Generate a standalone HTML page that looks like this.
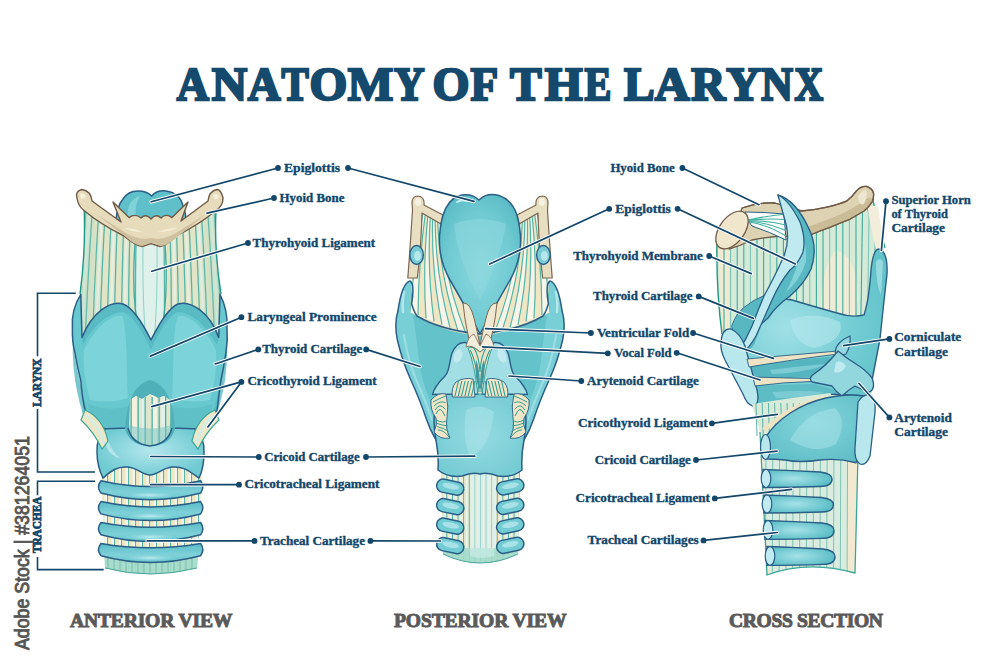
<!DOCTYPE html>
<html><head><meta charset="utf-8"><style>
html,body{margin:0;padding:0;background:#fff;width:1000px;height:667px;overflow:hidden}
svg{display:block}
.lb text{font-family:"Liberation Serif",serif;font-weight:bold;font-size:13px;fill:#12466a;stroke:#12466a;stroke-width:0.35px}
</style></head><body>
<svg width="1000" height="667" viewBox="0 0 1000 667">
<rect width="1000" height="667" fill="#fff"/>
<g font-family="Liberation Serif" font-weight="bold" font-size="46.9" fill="#154a6c" stroke="#154a6c" stroke-width="2.3" stroke-linejoin="miter"><text transform="translate(176.70,99.65) scale(0.951,1)">A</text><text transform="translate(211.82,99.65) scale(1.043,1)">N</text><text transform="translate(247.70,99.65) scale(0.969,1)">A</text><text transform="translate(281.50,99.65) scale(0.870,1)">T</text><text transform="translate(309.47,99.65) scale(1.036,1)">O</text><text transform="translate(347.83,99.65) scale(1.027,1)">M</text><text transform="translate(393.89,99.65) scale(0.901,1)">Y</text><text transform="translate(432.52,99.65) scale(1.014,1)">O</text><text transform="translate(470.38,99.65) scale(0.966,1)">F</text><text transform="translate(509.99,99.65) scale(1.011,1)">T</text><text transform="translate(544.72,99.65) scale(1.036,1)">H</text><text transform="translate(584.46,99.65) scale(0.859,1)">E</text><text transform="translate(623.97,99.65) scale(0.977,1)">L</text><text transform="translate(654.67,99.65) scale(1.030,1)">A</text><text transform="translate(691.35,99.65) scale(1.008,1)">R</text><text transform="translate(726.29,99.65) scale(1.019,1)">Y</text><text transform="translate(761.32,99.65) scale(0.935,1)">N</text><text transform="translate(794.40,99.65) scale(0.844,1)">X</text></g>
<g id="anterior">
<defs>
<clipPath id="cMemA"><path d="M84,205 Q86,250 80,294 L83,338 L219,338 L221,294 Q214,250 216,210 L176,238 L151,243 L126,237 Z"/></clipPath>
<clipPath id="cTrA"><path d="M101,462 L202,462 L197,568 Q150,580 105,568 Z"/></clipPath>
<clipPath id="cLigA"><path d="M130,400 L136,396 L142,399 L150,394 L158,398 L164,396 L170,400 L171,428 Q168,444 150,446 Q132,444 129,428 Z"/></clipPath>
<radialGradient id="gCricA" cx="0.5" cy="0.45" r="0.55"><stop offset="0" stop-color="#b4e7ed"/><stop offset="1" stop-color="#6fcad2"/></radialGradient>
<linearGradient id="gRingA" x1="0" x2="0" y1="0" y2="1"><stop offset="0" stop-color="#5bbcc6"/><stop offset="0.6" stop-color="#7fd1d9"/><stop offset="1" stop-color="#66c6ce"/></linearGradient>
</defs>
<path d="M102,466 L201,466 L197,568 Q150,580 105,568 Z" fill="#a6d9c9"/>
<g clip-path="url(#cTrA)">
<rect x="100" y="460" width="104" height="100" fill="#e9e6c8"/>
<rect x="101.5" y="460" width="3" height="100" fill="#f2e6bf"/>
<rect x="104.5" y="460" width="2.6" height="100" fill="#eef6ee"/>
<rect x="107.1" y="460" width="1" height="112" fill="#4bb0a3"/>
<rect x="108.5" y="460" width="3" height="100" fill="#f2e6bf"/>
<rect x="111.5" y="460" width="2.6" height="100" fill="#eef6ee"/>
<rect x="114.1" y="460" width="1" height="112" fill="#4bb0a3"/>
<rect x="115.5" y="460" width="3" height="100" fill="#f2e6bf"/>
<rect x="118.5" y="460" width="2.6" height="100" fill="#eef6ee"/>
<rect x="121.1" y="460" width="1" height="112" fill="#4bb0a3"/>
<rect x="122.5" y="460" width="3" height="100" fill="#f2e6bf"/>
<rect x="125.5" y="460" width="2.6" height="100" fill="#eef6ee"/>
<rect x="128.1" y="460" width="1" height="112" fill="#4bb0a3"/>
<rect x="129.5" y="460" width="3" height="100" fill="#f2e6bf"/>
<rect x="132.5" y="460" width="2.6" height="100" fill="#eef6ee"/>
<rect x="135.1" y="460" width="1" height="112" fill="#4bb0a3"/>
<rect x="136.5" y="460" width="3" height="100" fill="#f2e6bf"/>
<rect x="139.5" y="460" width="2.6" height="100" fill="#eef6ee"/>
<rect x="142.1" y="460" width="1" height="112" fill="#4bb0a3"/>
<rect x="143.5" y="460" width="3" height="100" fill="#f2e6bf"/>
<rect x="146.5" y="460" width="2.6" height="100" fill="#eef6ee"/>
<rect x="149.1" y="460" width="1" height="112" fill="#4bb0a3"/>
<rect x="150.5" y="460" width="3" height="100" fill="#f2e6bf"/>
<rect x="153.5" y="460" width="2.6" height="100" fill="#eef6ee"/>
<rect x="156.1" y="460" width="1" height="112" fill="#4bb0a3"/>
<rect x="157.5" y="460" width="3" height="100" fill="#f2e6bf"/>
<rect x="160.5" y="460" width="2.6" height="100" fill="#eef6ee"/>
<rect x="163.1" y="460" width="1" height="112" fill="#4bb0a3"/>
<rect x="164.5" y="460" width="3" height="100" fill="#f2e6bf"/>
<rect x="167.5" y="460" width="2.6" height="100" fill="#eef6ee"/>
<rect x="170.1" y="460" width="1" height="112" fill="#4bb0a3"/>
<rect x="171.5" y="460" width="3" height="100" fill="#f2e6bf"/>
<rect x="174.5" y="460" width="2.6" height="100" fill="#eef6ee"/>
<rect x="177.1" y="460" width="1" height="112" fill="#4bb0a3"/>
<rect x="178.5" y="460" width="3" height="100" fill="#f2e6bf"/>
<rect x="181.5" y="460" width="2.6" height="100" fill="#eef6ee"/>
<rect x="184.1" y="460" width="1" height="112" fill="#4bb0a3"/>
<rect x="185.5" y="460" width="3" height="100" fill="#f2e6bf"/>
<rect x="188.5" y="460" width="2.6" height="100" fill="#eef6ee"/>
<rect x="191.1" y="460" width="1" height="112" fill="#4bb0a3"/>
<rect x="192.5" y="460" width="3" height="100" fill="#f2e6bf"/>
<rect x="195.5" y="460" width="2.6" height="100" fill="#eef6ee"/>
<rect x="198.1" y="460" width="1" height="112" fill="#4bb0a3"/>
<rect x="199.5" y="460" width="3" height="100" fill="#f2e6bf"/>
<rect x="202.5" y="460" width="2.6" height="100" fill="#eef6ee"/>
<rect x="205.1" y="460" width="1" height="112" fill="#4bb0a3"/>
<path d="M100,556 L204,556 L204,580 L100,580 Z" fill="#a8dccb" opacity="0.9"/>
<rect x="107.6" y="556" width="0.8" height="20" fill="#6cbba9"/>
<rect x="113.6" y="556" width="0.8" height="20" fill="#6cbba9"/>
<rect x="119.6" y="556" width="0.8" height="20" fill="#6cbba9"/>
<rect x="125.6" y="556" width="0.8" height="20" fill="#6cbba9"/>
<rect x="131.6" y="556" width="0.8" height="20" fill="#6cbba9"/>
<rect x="137.6" y="556" width="0.8" height="20" fill="#6cbba9"/>
<rect x="143.6" y="556" width="0.8" height="20" fill="#6cbba9"/>
<rect x="149.6" y="556" width="0.8" height="20" fill="#6cbba9"/>
<rect x="155.6" y="556" width="0.8" height="20" fill="#6cbba9"/>
<rect x="161.6" y="556" width="0.8" height="20" fill="#6cbba9"/>
<rect x="167.6" y="556" width="0.8" height="20" fill="#6cbba9"/>
<rect x="173.6" y="556" width="0.8" height="20" fill="#6cbba9"/>
<rect x="179.6" y="556" width="0.8" height="20" fill="#6cbba9"/>
<rect x="185.6" y="556" width="0.8" height="20" fill="#6cbba9"/>
<rect x="191.6" y="556" width="0.8" height="20" fill="#6cbba9"/>
<rect x="197.6" y="556" width="0.8" height="20" fill="#6cbba9"/>
<rect x="203.6" y="556" width="0.8" height="20" fill="#6cbba9"/>
</g>
<path d="M105,568 Q150,580 197,568" fill="none" stroke="#4aa59a" stroke-width="1"/>
<defs><radialGradient id="gRingHA" cx="0.5" cy="0.5" r="0.5"><stop offset="0" stop-color="#c4f0f3" stop-opacity="0.9"/><stop offset="1" stop-color="#9fe0e6" stop-opacity="0"/></radialGradient></defs>
<path d="M101,480.7 Q150,492.3 200.6,480.7 Q205,486.9 200.6,493.0 Q150,506.4 101,493.0 Q96,486.9 101,480.7 Z" fill="url(#gRingA)" stroke="#2b5f86" stroke-width="1.5"/>
<ellipse cx="150" cy="495.2" rx="26" ry="3.2" fill="url(#gRingHA)"/>
<path d="M101,501.6 Q150,512.2 200.6,501.6 Q205,507.8 200.6,513.9 Q150,527.3 101,513.9 Q96,507.8 101,501.6 Z" fill="url(#gRingA)" stroke="#2b5f86" stroke-width="1.5"/>
<ellipse cx="150" cy="516.1" rx="26" ry="3.2" fill="url(#gRingHA)"/>
<path d="M101,522.5 Q150,532.1 200.6,522.5 Q205,528.6 200.6,534.8 Q150,548.2 101,534.8 Q96,528.6 101,522.5 Z" fill="url(#gRingA)" stroke="#2b5f86" stroke-width="1.5"/>
<ellipse cx="150" cy="537.0" rx="26" ry="3.2" fill="url(#gRingHA)"/>
<path d="M101,543.4 Q150,552.0 200.6,543.4 Q205,549.5 200.6,555.7 Q150,569.1 101,555.7 Q96,549.5 101,543.4 Z" fill="url(#gRingA)" stroke="#2b5f86" stroke-width="1.5"/>
<ellipse cx="150" cy="557.9" rx="26" ry="3.2" fill="url(#gRingHA)"/>
<path d="M97,452 Q96,438 106,428 L194,428 Q205,438 204,452 Q204,468 199,478 C190,472 184,466 172,467 C162,468 158,475 150,475 C142,475 138,468 128,467 C116,466 110,472 103,478 Q97,466 97,452 Z" fill="url(#gCricA)" stroke="#2b5f86" stroke-width="1.5"/>
<path d="M108,440 Q112,452 120,458 Q110,456 106,446 Z" fill="#d2f1f4" opacity="0.6"/>
<g clip-path="url(#cMemA)">
<rect x="70" y="200" width="160" height="140" fill="#f1e7c6"/>
<defs><linearGradient id="gMemTint" x1="0" x2="1" y1="0" y2="0"><stop offset="0" stop-color="#8fd0c0" stop-opacity="0.55"/><stop offset="0.2" stop-color="#8fd0c0" stop-opacity="0"/><stop offset="0.8" stop-color="#8fd0c0" stop-opacity="0"/><stop offset="1" stop-color="#8fd0c0" stop-opacity="0.55"/></linearGradient></defs>
<path d="M135,244 Q131,300 140,338 L160,338 Q169,300 165,244 Z" fill="#eef8f4"/>
<path d="M86.0,209.0 Q81.0,274.5 78.0,340" fill="none" stroke="#3fab9c" stroke-width="1.3"/>
<path d="M92.2,212.5 Q87.8,276.2 85.2,340" fill="none" stroke="#3fab9c" stroke-width="1.3"/>
<path d="M98.5,216.0 Q94.5,278.0 92.5,340" fill="none" stroke="#3fab9c" stroke-width="1.3"/>
<path d="M104.8,219.5 Q101.2,279.8 99.8,340" fill="none" stroke="#3fab9c" stroke-width="1.3"/>
<path d="M111.0,223.0 Q108.0,281.5 107.0,340" fill="none" stroke="#3fab9c" stroke-width="1.3"/>
<path d="M117.2,226.5 Q114.8,283.2 114.2,340" fill="none" stroke="#3fab9c" stroke-width="1.3"/>
<path d="M123.5,230.0 Q121.5,285.0 121.5,340" fill="none" stroke="#3fab9c" stroke-width="1.3"/>
<path d="M129.8,239.2 Q128.2,289.6 128.8,340" fill="none" stroke="#3fab9c" stroke-width="1.3"/>
<path d="M136.0,244.2 Q135.0,292.1 136.0,340" fill="none" stroke="#3fab9c" stroke-width="1.3"/>
<path d="M89.1,210.8 Q84.4,275.4 81.6,340" fill="none" stroke="#f7f5ea" stroke-width="2.6" opacity="0.9"/>
<path d="M101.6,217.8 Q97.9,278.9 96.1,340" fill="none" stroke="#f7f5ea" stroke-width="2.6" opacity="0.9"/>
<path d="M114.1,224.8 Q111.4,282.4 110.6,340" fill="none" stroke="#f7f5ea" stroke-width="2.6" opacity="0.9"/>
<path d="M126.6,231.8 Q124.9,285.9 125.1,340" fill="none" stroke="#f7f5ea" stroke-width="2.6" opacity="0.9"/>
<path d="M214.0,209.0 Q219.0,274.5 222.0,340" fill="none" stroke="#3fab9c" stroke-width="1.3"/>
<path d="M207.8,212.5 Q212.2,276.2 214.8,340" fill="none" stroke="#3fab9c" stroke-width="1.3"/>
<path d="M201.5,216.0 Q205.5,278.0 207.5,340" fill="none" stroke="#3fab9c" stroke-width="1.3"/>
<path d="M195.2,219.5 Q198.8,279.8 200.2,340" fill="none" stroke="#3fab9c" stroke-width="1.3"/>
<path d="M189.0,223.0 Q192.0,281.5 193.0,340" fill="none" stroke="#3fab9c" stroke-width="1.3"/>
<path d="M182.8,226.5 Q185.2,283.2 185.8,340" fill="none" stroke="#3fab9c" stroke-width="1.3"/>
<path d="M176.5,230.0 Q178.5,285.0 178.5,340" fill="none" stroke="#3fab9c" stroke-width="1.3"/>
<path d="M170.2,239.2 Q171.8,289.6 171.2,340" fill="none" stroke="#3fab9c" stroke-width="1.3"/>
<path d="M164.0,244.2 Q165.0,292.1 164.0,340" fill="none" stroke="#3fab9c" stroke-width="1.3"/>
<path d="M210.9,210.8 Q215.6,275.4 218.4,340" fill="none" stroke="#f7f5ea" stroke-width="2.6" opacity="0.9"/>
<path d="M198.4,217.8 Q202.1,278.9 203.9,340" fill="none" stroke="#f7f5ea" stroke-width="2.6" opacity="0.9"/>
<path d="M185.9,224.8 Q188.6,282.4 189.4,340" fill="none" stroke="#f7f5ea" stroke-width="2.6" opacity="0.9"/>
<path d="M173.4,231.8 Q175.1,285.9 174.9,340" fill="none" stroke="#f7f5ea" stroke-width="2.6" opacity="0.9"/>
<path d="M143,244 Q142.3,300 145.8,340" fill="none" stroke="#8fd3c8" stroke-width="1.1"/>
<path d="M157,244 Q157.7,300 154.2,340" fill="none" stroke="#8fd3c8" stroke-width="1.1"/>
<rect x="70" y="200" width="160" height="140" fill="url(#gMemTint)"/>
<rect x="70" y="200" width="160" height="140" fill="#a9dccf" opacity="0.22"/>
<path d="M135,244 Q131,300 140,338 M165,244 Q169,300 160,338" fill="none" stroke="#3ea99c" stroke-width="1.3"/>
</g>
<path d="M84,205 Q86,250 80,294" fill="none" stroke="#1f9986" stroke-width="1.4"/>
<path d="M216,210 Q214,250 221,294" fill="none" stroke="#1f9986" stroke-width="1.4"/>
<path d="M116,220 Q117,206 123,199 Q128,191 138,191 Q147,191 151.6,196 Q157,190 166,191 Q180,193 183,206 Q186,212 186,222 Z" fill="#5fc0c9" stroke="#2b5f86" stroke-width="1.5"/>
<path d="M128,218 Q126,200 140,196 Q134,206 136,218 Z" fill="#88d4dc" opacity="0.8"/>
<path d="M82,189.5 Q75,191 77,198 Q78,206 84,210.5 Q100,224 124,236 Q136,246 142,246.5 L151,243.5 L160,246.5 Q166,246 176,236 Q200,224 216,210.5 Q223,206 223,198 Q221,189.5 217,189.5 Q209,191 208,201 L181,221 L188,202 L172,217.6 Q166,213 161,218 Q156,213 151,219 Q146,213 141,218 Q135,213 129,217.6 L113,202 L121,222 L92,201 Q91,191 82,189.5 Z" fill="#e6dcbb" stroke="#6f5a47" stroke-width="1.4" stroke-linejoin="round"/>
<path d="M96,214 L126,233 Q140,241 151,238 Q162,241 176,233 L206,214 L176,238 Q168,245 161,246 L151,243 L142,246 Q134,245 126,237 Z" fill="#cfc19f"/>
<path d="M80,194 Q82,192 86,196 Q84,200 81,199 Z" fill="#f5f0dc"/>
<path d="M213,195 Q216,192 219,196 Q218,200 214,199 Z" fill="#f5f0dc"/>
<path d="M124,228 Q134,228 142,232 Q132,232 124,228 Z M158,232 Q168,228 178,228 Q168,232 158,232 Z" fill="#f3eed8"/>
<path d="M80.8,294.4 Q71,310 72.4,328 Q72,342 74.8,352 Q77,366 80.8,380.7 Q82,396 84.4,407 Q87,418 91.6,424 Q98,428 106,428.7 L128,428 Q150,424 172,428 L194,428.7 Q206,428 211.5,424 Q216,418 217.5,407 Q219,394 221,380 Q224,366 226,352 Q228,340 227,328 Q228,310 220,294.4 L218.7,337.6 C210,312 190,300 178,304 C168,308 158,326 151,340 C144,326 134,308 123,304 C111,300 92,312 82,337.6 Z" fill="#67c8cf"/>
<path d="M84,350 C96,326 112,314 122,316 C128,330 126,372 128,398 Q110,404 90,400 Q82,372 84,350 Z" fill="#80d4da" opacity="0.9"/>
<path d="M216,350 C204,326 188,314 178,316 C172,330 174,372 172,398 Q190,404 210,400 Q218,372 216,350 Z" fill="#80d4da" opacity="0.9"/>
<path d="M88,404 Q110,412 128,406 L172,406 Q190,412 212,404 L212,424 Q200,428 172,428 Q150,420 128,428 Q100,428 91.6,424 Z" fill="#60c0c8"/>
<path d="M82,337.6 C92,312 111,300 123,304 C134,308 144,326 151,340 C158,326 168,308 178,304 C190,300 210,312 218.7,337.6 L217,345 C206,324 190,312 178,312 C168,316 158,334 151,350 C144,334 134,316 123,312 C110,312 94,324 83,345 Z" fill="#59bac3"/>
<path d="M74,330 Q72,352 80,381 Q84,406 92,424 L86,424 Q78,400 75,380 Q71,350 74,330 Z" fill="#59bac3" opacity="0.8"/>
<path d="M226,330 Q228,352 220,381 Q216,406 208,424 L214,424 Q222,400 225,380 Q229,350 226,330 Z" fill="#59bac3" opacity="0.8"/>
<path d="M80.8,294.4 Q71,310 72.4,328 Q72,342 74.8,352 Q77,366 80.8,380.7 Q82,396 84.4,407 Q87,418 91.6,424 Q98,428 106,428.7 L128,428 Q150,424 172,428 L194,428.7 Q206,428 211.5,424 Q216,418 217.5,407 Q219,394 221,380 Q224,366 226,352 Q228,340 227,328 Q228,310 220,294.4 L218.7,337.6 C210,312 190,300 178,304 C168,308 158,326 151,340 C144,326 134,308 123,304 C111,300 92,312 82,337.6 Z" fill="none" stroke="#2b5f86" stroke-width="1.5" stroke-linejoin="round"/>
<path d="M125,429 Q127,386 150,380 Q173,386 175,429 Q170,446 150,446 Q130,446 125,429 Z" fill="#4fb0ba"/>
<g clip-path="url(#cLigA)">
<rect x="125" y="390" width="50" height="60" fill="#dfe6cc"/>
<rect x="132" y="390" width="5" height="60" fill="#f5f1e0"/>
<rect x="142" y="390" width="4" height="60" fill="#dff0ea"/>
<rect x="152" y="390" width="5" height="60" fill="#f5f1e0"/>
<rect x="161" y="390" width="4" height="60" fill="#dff0ea"/>
<rect x="130.5" y="397" width="1.3" height="50" fill="#4bb0a3"/>
<rect x="137.5" y="397" width="1.3" height="50" fill="#4bb0a3"/>
<rect x="144.5" y="397" width="1.3" height="50" fill="#4bb0a3"/>
<rect x="151.5" y="397" width="1.3" height="50" fill="#4bb0a3"/>
<rect x="158.5" y="397" width="1.3" height="50" fill="#4bb0a3"/>
<rect x="165" y="397" width="1.3" height="50" fill="#4bb0a3"/>
<rect x="170" y="397" width="1.3" height="50" fill="#4bb0a3"/>
<path d="M128,425 Q150,432 172,425 L172,450 L128,450 Z" fill="#6fc4c4" opacity="0.5"/>
</g>
<path d="M128,428 Q132,444 150,446 Q168,444 172,428" fill="none" stroke="#2b5f86" stroke-width="1.4"/>
<path d="M85.0,410 Q103.0,418 108.0,441 L102.0,449 Q94.0,432 81.0,420 Z" fill="#efe6c6" stroke="#3aa69a" stroke-width="1.2"/>
<path d="M86.0,415 Q98.0,424 104.0,444" fill="none" stroke="#cfeee8" stroke-width="2.5"/>
<path d="M215.0,410 Q197.0,418 192.0,441 L198.0,449 Q206.0,432 219.0,420 Z" fill="#efe6c6" stroke="#3aa69a" stroke-width="1.2"/>
<path d="M214.0,415 Q202.0,424 196.0,444" fill="none" stroke="#cfeee8" stroke-width="2.5"/>
</g><g id="posterior">
<defs>
<radialGradient id="gEpiP" cx="0.5" cy="0.55" r="0.6"><stop offset="0" stop-color="#88d6dd"/><stop offset="0.7" stop-color="#6fcad2"/><stop offset="1" stop-color="#5bbcc6"/></radialGradient>
<radialGradient id="gCriP" cx="0.5" cy="0.5" r="0.6"><stop offset="0" stop-color="#96dbe2"/><stop offset="1" stop-color="#74cbd3"/></radialGradient>
<clipPath id="cTrP"><path d="M441,466 L520,466 L518,554 Q480,572 443,554 Z"/></clipPath>
<clipPath id="cMemP"><path d="M416,206 L442,219 L480,334 L518,219 L544,206 L550,312 Q520,332 480,336 Q440,332 410,312 Z"/></clipPath>
</defs>
<path d="M441,466 L520,466 L518,554 Q480,572 443,554 Z" fill="#a8dccb"/>
<g clip-path="url(#cTrP)">
<rect x="440" y="460" width="84" height="90" fill="#efe6c8"/>
<rect x="443.2" y="460" width="2.2" height="90" fill="#e2f2ec"/>
<rect x="446.4" y="460" width="0.9" height="110" fill="#4db2a6"/>
<rect x="448.8" y="460" width="2.2" height="90" fill="#e2f2ec"/>
<rect x="452.0" y="460" width="0.9" height="110" fill="#4db2a6"/>
<rect x="454.4" y="460" width="2.2" height="90" fill="#e2f2ec"/>
<rect x="457.6" y="460" width="0.9" height="110" fill="#4db2a6"/>
<rect x="460.0" y="460" width="2.2" height="90" fill="#e2f2ec"/>
<rect x="463.2" y="460" width="0.9" height="110" fill="#4db2a6"/>
<rect x="465.6" y="460" width="2.2" height="90" fill="#e2f2ec"/>
<rect x="468.8" y="460" width="0.9" height="110" fill="#4db2a6"/>
<rect x="471.2" y="460" width="2.2" height="90" fill="#e2f2ec"/>
<rect x="474.4" y="460" width="0.9" height="110" fill="#4db2a6"/>
<rect x="476.8" y="460" width="2.2" height="90" fill="#e2f2ec"/>
<rect x="480.0" y="460" width="0.9" height="110" fill="#4db2a6"/>
<rect x="482.4" y="460" width="2.2" height="90" fill="#e2f2ec"/>
<rect x="485.6" y="460" width="0.9" height="110" fill="#4db2a6"/>
<rect x="488.0" y="460" width="2.2" height="90" fill="#e2f2ec"/>
<rect x="491.2" y="460" width="0.9" height="110" fill="#4db2a6"/>
<rect x="493.6" y="460" width="2.2" height="90" fill="#e2f2ec"/>
<rect x="496.8" y="460" width="0.9" height="110" fill="#4db2a6"/>
<rect x="499.2" y="460" width="2.2" height="90" fill="#e2f2ec"/>
<rect x="502.4" y="460" width="0.9" height="110" fill="#4db2a6"/>
<rect x="504.8" y="460" width="2.2" height="90" fill="#e2f2ec"/>
<rect x="508.0" y="460" width="0.9" height="110" fill="#4db2a6"/>
<rect x="510.4" y="460" width="2.2" height="90" fill="#e2f2ec"/>
<rect x="513.6" y="460" width="0.9" height="110" fill="#4db2a6"/>
<rect x="516.0" y="460" width="2.2" height="90" fill="#e2f2ec"/>
<rect x="519.2" y="460" width="0.9" height="110" fill="#4db2a6"/>
<rect x="521.6" y="460" width="2.2" height="90" fill="#e2f2ec"/>
<rect x="524.8" y="460" width="0.9" height="110" fill="#4db2a6"/>
<path d="M440,548 L524,548 L524,570 L440,570 Z" fill="#a8dccb" opacity="0.85"/>
<path d="M470,470 Q482,468 494,470 L494,556 Q482,560 470,556 Z" fill="#d8f2f2" opacity="0.5"/>
</g>
<path d="M443,554 Q480,572 518,554" fill="none" stroke="#4aa59a" stroke-width="1"/>
<g transform="rotate(12 449.5 487)"><rect x="436.5" y="480.4" width="27.5" height="13.2" rx="6.6" fill="#72ccd4" stroke="#2b5f86" stroke-width="1.5"/><ellipse cx="450.5" cy="486.0" rx="8.5" ry="2.8" fill="#b6e7ec" opacity="0.8"/></g>
<g transform="rotate(-12 509.5 487)"><rect x="496.5" y="480.4" width="27.5" height="13.2" rx="6.6" fill="#72ccd4" stroke="#2b5f86" stroke-width="1.5"/><ellipse cx="510.5" cy="486.0" rx="8.5" ry="2.8" fill="#b6e7ec" opacity="0.8"/></g>
<g transform="rotate(12 449.5 506.5)"><rect x="436.5" y="499.9" width="27.5" height="13.2" rx="6.6" fill="#72ccd4" stroke="#2b5f86" stroke-width="1.5"/><ellipse cx="450.5" cy="505.5" rx="8.5" ry="2.8" fill="#b6e7ec" opacity="0.8"/></g>
<g transform="rotate(-12 509.5 506.5)"><rect x="496.5" y="499.9" width="27.5" height="13.2" rx="6.6" fill="#72ccd4" stroke="#2b5f86" stroke-width="1.5"/><ellipse cx="510.5" cy="505.5" rx="8.5" ry="2.8" fill="#b6e7ec" opacity="0.8"/></g>
<g transform="rotate(12 449.5 526)"><rect x="436.5" y="519.4" width="27.5" height="13.2" rx="6.6" fill="#72ccd4" stroke="#2b5f86" stroke-width="1.5"/><ellipse cx="450.5" cy="525.0" rx="8.5" ry="2.8" fill="#b6e7ec" opacity="0.8"/></g>
<g transform="rotate(-12 509.5 526)"><rect x="496.5" y="519.4" width="27.5" height="13.2" rx="6.6" fill="#72ccd4" stroke="#2b5f86" stroke-width="1.5"/><ellipse cx="510.5" cy="525.0" rx="8.5" ry="2.8" fill="#b6e7ec" opacity="0.8"/></g>
<g transform="rotate(12 449.5 545.5)"><rect x="436.5" y="538.9" width="27.5" height="13.2" rx="6.6" fill="#72ccd4" stroke="#2b5f86" stroke-width="1.5"/><ellipse cx="450.5" cy="544.5" rx="8.5" ry="2.8" fill="#b6e7ec" opacity="0.8"/></g>
<g transform="rotate(-12 509.5 545.5)"><rect x="496.5" y="538.9" width="27.5" height="13.2" rx="6.6" fill="#72ccd4" stroke="#2b5f86" stroke-width="1.5"/><ellipse cx="510.5" cy="544.5" rx="8.5" ry="2.8" fill="#b6e7ec" opacity="0.8"/></g>
<path d="M410,281 Q402,283 398,310.5 Q394,324 397.4,340 Q402,360 410,378 Q420,400 426,418 Q430,430 436,440 L524,440 Q530,430 534,418 Q540,400 550,378 Q558,360 562.6,340 Q566,324 562,310.5 Q558,283 550,281 Q545,284 548.4,303.7 Q546,312 543,316 Q520,330 480,334 Q440,330 417,316 Q414,312 411.6,303.7 Q415,284 410,281 Z" fill="#63c2ca"/>
<path d="M410,281 Q402,283 398,310.5 Q394,324 397.4,340 Q402,360 410,378 Q420,400 426,418 Q430,430 436,440 L446,440 Q436,420 430,400 Q420,378 418,352 Q416,334 411.6,303.7 Q415,284 410,281 Z" fill="#79cfd6"/>
<path d="M550.0,281 Q558.0,283 562.0,310.5 Q566.0,324 562.6,340 Q558.0,360 550.0,378 Q540.0,400 534.0,418 Q530.0,430 524.0,440 L514.0,440 Q524.0,420 530.0,400 Q540.0,378 542.0,352 Q544.0,334 548.4,303.7 Q545.0,284 550.0,281 Z" fill="#79cfd6"/>
<path d="M404,292 Q402,300 403,312" fill="none" stroke="#b4e6eb" stroke-width="2.5" stroke-linecap="round"/>
<path d="M404,335 Q408,362 418,384 Q426,402 432,420" fill="none" stroke="#a8e0e6" stroke-width="2" stroke-linecap="round" opacity="0.8"/>
<path d="M556,335 Q552,362 542,384 Q534,402 528,420" fill="none" stroke="#a8e0e6" stroke-width="2" stroke-linecap="round" opacity="0.8"/>
<path d="M556,292 Q558,300 557,312" fill="none" stroke="#b4e6eb" stroke-width="2.5" stroke-linecap="round"/>
<g clip-path="url(#cMemP)">
<rect x="405" y="200" width="150" height="140" fill="#efe6c6"/>
<path d="M423.0,212.0 Q414.0,262.0 410.0,312.0 L418.0,315.1 Q418.3,264.3 425.4,213.4 Z" fill="#f7f5ea"/>
<path d="M427.9,214.9 Q422.6,266.6 426.0,318.3 L434.0,321.4 Q426.9,268.9 430.3,216.3 Z" fill="#f7f5ea"/>
<path d="M432.7,217.7 Q431.1,271.1 442.0,324.6 L450.0,327.7 Q435.4,273.4 435.1,219.1 Z" fill="#f7f5ea"/>
<path d="M437.6,220.6 Q439.7,275.7 458.0,330.9 L466.0,334.0 Q444.0,278.0 440.0,222.0 Z" fill="#f7f5ea"/>
<path d="M423.0,212.0 Q414.0,262.0 410.0,312.0" fill="none" stroke="#55b5a6" stroke-width="1.2"/>
<path d="M425.4,213.4 Q418.3,264.3 418.0,315.1" fill="none" stroke="#55b5a6" stroke-width="1.2"/>
<path d="M427.9,214.9 Q422.6,266.6 426.0,318.3" fill="none" stroke="#55b5a6" stroke-width="1.2"/>
<path d="M430.3,216.3 Q426.9,268.9 434.0,321.4" fill="none" stroke="#55b5a6" stroke-width="1.2"/>
<path d="M432.7,217.7 Q431.1,271.1 442.0,324.6" fill="none" stroke="#55b5a6" stroke-width="1.2"/>
<path d="M435.1,219.1 Q435.4,273.4 450.0,327.7" fill="none" stroke="#55b5a6" stroke-width="1.2"/>
<path d="M437.6,220.6 Q439.7,275.7 458.0,330.9" fill="none" stroke="#55b5a6" stroke-width="1.2"/>
<path d="M440.0,222.0 Q444.0,278.0 466.0,334.0" fill="none" stroke="#55b5a6" stroke-width="1.2"/>
<path d="M537.0,212.0 Q546.0,262.0 550.0,312.0 L542.0,315.1 Q541.7,264.3 534.6,213.4 Z" fill="#f7f5ea"/>
<path d="M532.1,214.9 Q537.4,266.6 534.0,318.3 L526.0,321.4 Q533.1,268.9 529.7,216.3 Z" fill="#f7f5ea"/>
<path d="M527.3,217.7 Q528.9,271.1 518.0,324.6 L510.0,327.7 Q524.6,273.4 524.9,219.1 Z" fill="#f7f5ea"/>
<path d="M522.4,220.6 Q520.3,275.7 502.0,330.9 L494.0,334.0 Q516.0,278.0 520.0,222.0 Z" fill="#f7f5ea"/>
<path d="M537.0,212.0 Q546.0,262.0 550.0,312.0" fill="none" stroke="#55b5a6" stroke-width="1.2"/>
<path d="M534.6,213.4 Q541.7,264.3 542.0,315.1" fill="none" stroke="#55b5a6" stroke-width="1.2"/>
<path d="M532.1,214.9 Q537.4,266.6 534.0,318.3" fill="none" stroke="#55b5a6" stroke-width="1.2"/>
<path d="M529.7,216.3 Q533.1,268.9 526.0,321.4" fill="none" stroke="#55b5a6" stroke-width="1.2"/>
<path d="M527.3,217.7 Q528.9,271.1 518.0,324.6" fill="none" stroke="#55b5a6" stroke-width="1.2"/>
<path d="M524.9,219.1 Q524.6,273.4 510.0,327.7" fill="none" stroke="#55b5a6" stroke-width="1.2"/>
<path d="M522.4,220.6 Q520.3,275.7 502.0,330.9" fill="none" stroke="#55b5a6" stroke-width="1.2"/>
<path d="M520.0,222.0 Q516.0,278.0 494.0,334.0" fill="none" stroke="#55b5a6" stroke-width="1.2"/>
</g>
<path d="M410,281 Q402,283 398,310.5 Q394,324 397.4,340 Q402,360 410,378 Q420,400 426,418 Q430,430 436,440 L524,440 Q530,430 534,418 Q540,400 550,378 Q558,360 562.6,340 Q566,324 562,310.5 Q558,283 550,281 Q545,284 548.4,303.7 Q546,312 543,316 Q520,330 480,334 Q440,330 417,316 Q414,312 411.6,303.7 Q415,284 410,281 Z" fill="none" stroke="#2b5f86" stroke-width="1.5" stroke-linejoin="round"/>
<path d="M412,203 Q412,196 418,196 Q425,197 424,205 L443,215 L441,224 L422,213 Q421,250 417.3,278 L407.8,278 Q410,250 412.5,210 Z" fill="#e8dfc2" stroke="#7b6650" stroke-width="1.2" stroke-linejoin="round"/>
<path d="M548.0,203 Q548.0,196 542.0,196 Q535.0,197 536.0,205 L517.0,215 L519.0,224 L538.0,213 Q539.0,250 542.7,278 L552.2,278 Q550.0,250 547.5,210 Z" fill="#e8dfc2" stroke="#7b6650" stroke-width="1.2" stroke-linejoin="round"/>
<ellipse cx="418" cy="202" rx="3" ry="4" fill="#f6f2e2"/><ellipse cx="542" cy="202" rx="3" ry="4" fill="#f6f2e2"/>
<ellipse cx="416.6" cy="255" rx="6.8" ry="9.5" fill="#78ccd4" stroke="#2b5f86" stroke-width="1.4"/>
<ellipse cx="417.6" cy="256" rx="3.5" ry="5" fill="#c5eef2" opacity="0.8"/>
<ellipse cx="543.4" cy="255" rx="6.8" ry="9.5" fill="#78ccd4" stroke="#2b5f86" stroke-width="1.4"/>
<ellipse cx="544.4" cy="256" rx="3.5" ry="5" fill="#c5eef2" opacity="0.8"/>
<path d="M458,196 Q471,192 479,200 Q487,192 499,195.5 Q512,200 517,215 Q522,234 520,250 Q518,266 510,280 Q496,304 480,334 Q464,304 450,280 Q442,266 440,250 Q438,234 443,215 Q448,200 458,196 Z" fill="url(#gEpiP)" stroke="#2b5f86" stroke-width="1.5"/>
<path d="M454,224 Q480,214 506,224 Q500,260 480,300 Q458,262 454,224 Z" fill="#8fd9df" opacity="0.55"/>
<path d="M457,202 Q462,199 467,201" fill="none" stroke="#c4eef2" stroke-width="2" stroke-linecap="round"/>
<path d="M463,303 Q470,302 474,318 Q478,334 480,346 L472,348 Q466,332 463,303 Z" fill="#efe8d2" stroke="#7b6650" stroke-width="1"/>
<path d="M497.0,303 Q490.0,302 486.0,318 Q482.0,334 480.0,346 L488.0,348 Q494.0,332 497.0,303 Z" fill="#efe8d2" stroke="#7b6650" stroke-width="1"/>
<path d="M448,393 L512,393 Q520,395 524,404 Q528,420 524,440 Q521,456 522,470 Q512,478 498,476 Q488,472 480,474 Q472,472 462,476 Q448,478 438,470 Q439,456 436,440 Q432,420 436,404 Q440,395 448,393 Z" fill="url(#gCriP)" stroke="#2b5f86" stroke-width="1.5"/>
<path d="M466,410 Q480,402 494,412 Q490,450 470,456 Q462,440 466,410 Z" fill="#a9e2e8" opacity="0.6"/>
<path d="M432.6,394.4 C434,387 440,381 445,376 C450,371 449,362 452,353 C455,346 460,342 465,342.5 C471,343.5 474,349 476,355 L478,394 Z" fill="#a2dfe5" stroke="#2b5f86" stroke-width="1.4" stroke-linejoin="round"/>
<path d="M527.4,394.4 C526.0,387 520.0,381 515.0,376 C510.0,371 511.0,362 508.0,353 C505.0,346 500.0,342 495.0,342.5 C489.0,343.5 486.0,349 484.0,355 L482.0,394 Z" fill="#a2dfe5" stroke="#2b5f86" stroke-width="1.4" stroke-linejoin="round"/>
<ellipse cx="458" cy="356" rx="4" ry="7" transform="rotate(20 458 356)" fill="#c9eef2" opacity="0.8"/><ellipse cx="502" cy="356" rx="4" ry="7" transform="rotate(-20 502 356)" fill="#c9eef2" opacity="0.8"/>
<path d="M468,348 Q474,346 480,352 Q486,346 492,348 Q486,362 482,394 L478,394 Q474,362 468,348 Z" fill="#e9e4c8" stroke="#2f9c91" stroke-width="0.9"/>
<path d="M470,350 Q477,362 479,392 M490,350 Q483,362 481,392 M474,348 Q479,356 480,372 M486,348 Q481,356 480,372" fill="none" stroke="#2f9c91" stroke-width="1.1"/>
<path d="M476,360 Q480,368 480,390 Q474,378 476,360 Z M484,360 Q480,368 480,390 Q486,378 484,360 Z" fill="#3f98a0"/>
<path d="M466,347 Q468,336 474,334 L480,346 L486,334 Q492,336 494,347 Q488,344 480,352 Q472,344 466,347 Z" fill="#f3eedb" stroke="#7b6650" stroke-width="0.8"/>
<path d="M452.4,397 Q451,388 456,382 Q464,377 473,379 L475,397 Z" fill="#efe6c8" stroke="#2b5f86" stroke-width="0.9" stroke-linejoin="round"/>
<path d="M507.6,397 Q509.0,388 504.0,382 Q496.0,377 487.0,379 L485.0,397 Z" fill="#efe6c8" stroke="#2b5f86" stroke-width="0.9" stroke-linejoin="round"/>
<path d="M431,400 Q438,392 446,394 Q449,406 447,418 Q445,428 450,438 Q440,440 434,432 Q438,424 436,418 Q430,410 431,400 Z" fill="#efe6c8" stroke="#2b5f86" stroke-width="0.9" stroke-linejoin="round"/>
<path d="M529.0,400 Q522.0,392 514.0,394 Q511.0,406 513.0,418 Q515.0,428 510.0,438 Q520.0,440 526.0,432 Q522.0,424 524.0,418 Q530.0,410 529.0,400 Z" fill="#efe6c8" stroke="#2b5f86" stroke-width="0.9" stroke-linejoin="round"/>
<path d="M505.0,396 L501.5,381" stroke="#2f9c91" stroke-width="1.1"/>
<path d="M501.7,396 L498.2,381" stroke="#2f9c91" stroke-width="1.1"/>
<path d="M498.4,396 L494.9,381" stroke="#2f9c91" stroke-width="1.1"/>
<path d="M495.1,396 L491.6,381" stroke="#2f9c91" stroke-width="1.1"/>
<path d="M491.8,396 L488.3,381" stroke="#2f9c91" stroke-width="1.1"/>
<path d="M488.5,396 L485.0,381" stroke="#2f9c91" stroke-width="1.1"/>
<path d="M527.0,402.0 Q520.0,398.0 514.0,396.0" fill="none" stroke="#2f9c91" stroke-width="1"/>
<path d="M524.0,420.0 Q516.0,424.0 513.0,420.0" fill="none" stroke="#2f9c91" stroke-width="1"/>
<path d="M526.0,406.0 Q520.0,400.0 514.3,402.7" fill="none" stroke="#2f9c91" stroke-width="1"/>
<path d="M523.3,423.3 Q516.0,426.0 512.3,425.7" fill="none" stroke="#2f9c91" stroke-width="1"/>
<path d="M525.0,410.0 Q520.0,402.0 514.7,409.3" fill="none" stroke="#2f9c91" stroke-width="1"/>
<path d="M522.7,426.7 Q516.0,428.0 511.7,431.3" fill="none" stroke="#2f9c91" stroke-width="1"/>
<path d="M524.0,414.0 Q520.0,404.0 515.0,416.0" fill="none" stroke="#2f9c91" stroke-width="1"/>
<path d="M522.0,430.0 Q516.0,430.0 511.0,437.0" fill="none" stroke="#2f9c91" stroke-width="1"/>
<path d="M455.0,396 L458.5,381" stroke="#2f9c91" stroke-width="1.1"/>
<path d="M458.3,396 L461.8,381" stroke="#2f9c91" stroke-width="1.1"/>
<path d="M461.6,396 L465.1,381" stroke="#2f9c91" stroke-width="1.1"/>
<path d="M464.9,396 L468.4,381" stroke="#2f9c91" stroke-width="1.1"/>
<path d="M468.2,396 L471.7,381" stroke="#2f9c91" stroke-width="1.1"/>
<path d="M471.5,396 L475.0,381" stroke="#2f9c91" stroke-width="1.1"/>
<path d="M433.0,402.0 Q440.0,398.0 446.0,396.0" fill="none" stroke="#2f9c91" stroke-width="1"/>
<path d="M436.0,420.0 Q444.0,424.0 447.0,420.0" fill="none" stroke="#2f9c91" stroke-width="1"/>
<path d="M434.0,406.0 Q440.0,400.0 445.7,402.7" fill="none" stroke="#2f9c91" stroke-width="1"/>
<path d="M436.7,423.3 Q444.0,426.0 447.7,425.7" fill="none" stroke="#2f9c91" stroke-width="1"/>
<path d="M435.0,410.0 Q440.0,402.0 445.3,409.3" fill="none" stroke="#2f9c91" stroke-width="1"/>
<path d="M437.3,426.7 Q444.0,428.0 448.3,431.3" fill="none" stroke="#2f9c91" stroke-width="1"/>
<path d="M436.0,414.0 Q440.0,404.0 445.0,416.0" fill="none" stroke="#2f9c91" stroke-width="1"/>
<path d="M438.0,430.0 Q444.0,430.0 449.0,437.0" fill="none" stroke="#2f9c91" stroke-width="1"/>
</g><g id="cross">
<defs>
<clipPath id="cTubeC"><path d="M717,238 Q716,290 722,334 L752,406 Q758,420 760,432 L767,575 Q808,560 855,573 L858,455 L868,420 L880,335 Q886,300 884,248 L873,197 L864,211 Q850,219 831,227 L810,235 L790,236 L760,236 L745,212 Z"/></clipPath>
<linearGradient id="gRingC" x1="0" x2="0" y1="0" y2="1"><stop offset="0" stop-color="#5abdc6"/><stop offset="0.55" stop-color="#95dbe2"/><stop offset="1" stop-color="#5cbec7"/></linearGradient>
<radialGradient id="gLamC" cx="0.35" cy="0.5" r="0.7"><stop offset="0" stop-color="#a0e0e6"/><stop offset="0.6" stop-color="#74cdd4"/><stop offset="1" stop-color="#62c2ca"/></radialGradient>
<radialGradient id="gRingR" cx="0.45" cy="0.5" r="0.55"><stop offset="0" stop-color="#a6e2e8"/><stop offset="1" stop-color="#5cbec7"/></radialGradient>
<radialGradient id="gCriC" cx="0.5" cy="0.4" r="0.7"><stop offset="0" stop-color="#86d5dc"/><stop offset="1" stop-color="#5dbdc6"/></radialGradient>
</defs>
<g clip-path="url(#cTubeC)">
<rect x="710" y="190" width="180" height="390" fill="#d6ead8"/>
<path d="M716,200 L729,200 L729,340 L762,430 L770,580 L758,580 L752,430 L722,340 Z" fill="#f1ead2"/>
<path d="M836,250 Q858,256 858,300 L852,330 L822,330 Q818,270 836,250 Z" fill="#f1ecd6" opacity="0.9"/>
<path d="M848,460 L864,460 L860,580 L846,580 Z" fill="#f1ead0"/>
<path d="M724.0,205 L724.0,340" stroke="#3fab9c" stroke-width="1.1"/>
<path d="M730.6,205 L730.6,340" stroke="#7cc6b9" stroke-width="1.1"/>
<path d="M737.2,205 L737.2,340" stroke="#3fab9c" stroke-width="1.1"/>
<path d="M743.8,205 L743.8,340" stroke="#3fab9c" stroke-width="1.1"/>
<path d="M750.4,205 L750.4,340" stroke="#7cc6b9" stroke-width="1.1"/>
<path d="M757.0,205 L757.0,340" stroke="#3fab9c" stroke-width="1.1"/>
<path d="M763.6,205 L763.6,340" stroke="#3fab9c" stroke-width="1.1"/>
<path d="M770.2,205 L770.2,340" stroke="#7cc6b9" stroke-width="1.1"/>
<path d="M776.8,205 L776.8,340" stroke="#3fab9c" stroke-width="1.1"/>
<path d="M783.4,205 L783.4,340" stroke="#3fab9c" stroke-width="1.1"/>
<path d="M790.0,205 L790.0,340" stroke="#7cc6b9" stroke-width="1.1"/>
<path d="M796.6,205 L796.6,340" stroke="#3fab9c" stroke-width="1.1"/>
<path d="M803.2,205 L803.2,340" stroke="#3fab9c" stroke-width="1.1"/>
<path d="M809.8,205 L809.8,340" stroke="#7cc6b9" stroke-width="1.1"/>
<path d="M816.4,205 L816.4,340" stroke="#3fab9c" stroke-width="1.1"/>
<path d="M823.0,205 L823.0,340" stroke="#3fab9c" stroke-width="1.1"/>
<path d="M829.6,205 L829.6,340" stroke="#7cc6b9" stroke-width="1.1"/>
<path d="M836.2,205 L836.2,340" stroke="#3fab9c" stroke-width="1.1"/>
<path d="M842.8,205 L842.8,340" stroke="#3fab9c" stroke-width="1.1"/>
<path d="M849.4,205 L849.4,340" stroke="#7cc6b9" stroke-width="1.1"/>
<path d="M856.0,205 L856.0,340" stroke="#3fab9c" stroke-width="1.1"/>
<path d="M862.6,205 L860.6,340" stroke="#3fab9c" stroke-width="1.1"/>
<path d="M869.2,205 L867.2,340" stroke="#7cc6b9" stroke-width="1.1"/>
<path d="M875.8,205 L873.8,340" stroke="#3fab9c" stroke-width="1.1"/>
<rect x="755" y="440" width="110" height="140" fill="#d9ecdf"/>
<path d="M752,430 L762,430 L770,580 L758,580 Z" fill="#f1ead2"/><path d="M848,460 L864,460 L860,580 L846,580 Z" fill="#f1ead0"/>
<path d="M766.0,440 L765.5,575" stroke="#7cc4b6" stroke-width="1"/>
<path d="M772.8,440 L772.3,575" stroke="#7cc4b6" stroke-width="1"/>
<path d="M779.6,440 L779.1,575" stroke="#7cc4b6" stroke-width="1"/>
<path d="M786.4,440 L785.9,575" stroke="#7cc4b6" stroke-width="1"/>
<path d="M793.2,440 L792.7,575" stroke="#7cc4b6" stroke-width="1"/>
<path d="M800.0,440 L799.5,575" stroke="#7cc4b6" stroke-width="1"/>
<path d="M806.8,440 L806.3,575" stroke="#7cc4b6" stroke-width="1"/>
<path d="M813.6,440 L813.1,575" stroke="#7cc4b6" stroke-width="1"/>
<path d="M820.4,440 L819.9,575" stroke="#7cc4b6" stroke-width="1"/>
<path d="M827.2,440 L826.7,575" stroke="#7cc4b6" stroke-width="1"/>
<path d="M834.0,440 L833.5,575" stroke="#7cc4b6" stroke-width="1"/>
<path d="M840.8,440 L840.3,575" stroke="#7cc4b6" stroke-width="1"/>
<path d="M847.6,440 L847.1,575" stroke="#7cc4b6" stroke-width="1"/>
</g>
<path d="M717,238 Q716,290 722,334" fill="none" stroke="#1f9986" stroke-width="1.4"/>
<path d="M760,432 L767,575 Q808,560 855,573 L858,455" fill="none" stroke="#3aa69a" stroke-width="1.3"/>
<path d="M866,205 L882,248 M872,197 L885,248" stroke="#1f9986" stroke-width="1.2"/>
<path d="M867,206 L878,206 L884,248 L876,250 Z" fill="#f3eedb"/>
<path d="M732,326 Q736,314 745,307 Q754,300 764,296 L792,300 Q812,306 837,313 Q852,318 864,315 Q869,300 871,270 Q873,250 878.5,249 Q888,251 887,274 Q884,300 880,339 Q876,360 872,380 L866,396 L830,394 Q790,398 753,405 L738,372 Z" fill="url(#gLamC)" stroke="#2b5f86" stroke-width="1.4" stroke-linejoin="round"/>
<path d="M732,326 Q736,314 745,307 Q754,300 764,296 L770,300 Q760,330 754,345 L740,360 Z" fill="#58b7c1"/>
<path d="M790,320 Q815,310 840,322 Q845,340 815,348 Q795,345 790,320 Z" fill="#b6e8ed" opacity="0.6"/>
<path d="M876,262 Q880,256 883,262 L881,295 Q876,285 876,262 Z" fill="#a6e0e6" opacity="0.8"/>
<path d="M750,366 Q795,360 836,356 L832,376 Q790,378 756,380 Z" fill="#56b6c0"/>
<path d="M757,386 Q790,384 815,384 L840,392 L830,394 Q790,398 753,405 Z" fill="#5ebcc5"/>
<path d="M770,370 Q800,366 826,364 Q810,372 772,374 Z" fill="#8ed6dd" opacity="0.7"/>
<path d="M772,392 Q800,390 824,392 Q808,398 776,398 Z" fill="#8ed6dd" opacity="0.6"/>
<path d="M742,208 Q758,202 775,203 Q790,208 801.6,211 Q815,210 825.6,207.4 Q840,204 847,200.8 Q852,197 856.7,190.6 Q861,186 866.3,186.4 Q872,188 873.5,193 Q874,198 872.3,201.4 Q869,207 864,211 Q857,215 849.5,219.4 Q840,223 831.6,226.6 Q822,230 810,235 L790,236 Q770,236 752,240 Q740,246 729,249 Z" fill="#ddd2b2" stroke="#6f5a47" stroke-width="1.3" stroke-linejoin="round"/>
<path d="M790,232 Q812,226 832,218 Q852,210 868,198 Q872,196 872.3,201.4 Q869,207 864,211 Q857,215 849.5,219.4 Q840,223 831.6,226.6 Q822,230 810,235 L790,236 Z" fill="#cbbc98"/>
<path d="M858,196 Q862,190 866,190 Q868,196 864,204 Q858,206 858,196 Z" fill="#ede6d0"/>
<path d="M742,208 Q758,202 775,203 Q790,208 801.6,211 Q815,210 825.6,207.4 Q840,204 847,200.8 Q852,197 856.7,190.6 Q861,186 866.3,186.4 Q872,188 873.5,193 Q874,198 872.3,201.4 Q869,207 864,211 Q857,215 849.5,219.4 Q840,223 831.6,226.6 Q822,230 810,235" fill="none" stroke="#6f5a47" stroke-width="1.3" stroke-linejoin="round"/>
<path d="M745,212 Q765,212 784,214 L786,240 Q770,232 752,226 Q746,220 745,212 Z" fill="#fbfdfc" stroke="#2b5f86" stroke-width="1"/>
<path d="M748,220.0 Q766,216.0 786,214.0" fill="none" stroke="#3fb0a0" stroke-width="1.1"/>
<path d="M748,220.5 Q766,218.0 786,219.5" fill="none" stroke="#3fb0a0" stroke-width="1.1"/>
<path d="M748,221.0 Q766,220.0 786,225.0" fill="none" stroke="#3fb0a0" stroke-width="1.1"/>
<path d="M748,221.5 Q766,222.0 786,230.5" fill="none" stroke="#3fb0a0" stroke-width="1.1"/>
<path d="M748,222.0 Q766,224.0 786,236.0" fill="none" stroke="#3fb0a0" stroke-width="1.1"/>
<ellipse cx="732" cy="230" rx="12.5" ry="21.5" transform="rotate(36 732 230)" fill="#f0e6cb" stroke="#6f5a47" stroke-width="1.3"/>
<path d="M778,195 Q796,200 809.5,230 Q818,248 811,269 Q804,284 790,296 Q776,306 768,318 L759,326 Q768,306 775,290 Q788,270 790,248 Q790,220 778,195 Z" fill="#58b9c3" stroke="#2b5f86" stroke-width="1.4" stroke-linejoin="round"/>
<path d="M795,222 Q808,240 806,262 Q800,280 786,292 Q798,270 800,250 Q800,236 795,222 Z" fill="#8fd7de" opacity="0.8"/>
<path d="M778,195 Q789,200 800,222 Q806,238 803,252 Q798,264 790,270 Q780,282 772,300 Q764,318 756,336 Q749,348 742,354 L738,352 Q746,340 752,326 Q758,310 764,296 Q774,278 784,256 Q790,240 786,224 Q782,210 778,195 Z" fill="#bfeaf0" stroke="#2b5f86" stroke-width="1.3" stroke-linejoin="round"/>
<path d="M721,342 Q722,328 731,329 Q740,333 745,346 L757,390 Q760,405 753,406 Q747,405 743,394 L725,360 Q720,350 721,342 Z" fill="#b8e8ee" stroke="#2b5f86" stroke-width="1.3"/>
<path d="M747,359 Q790,355 838,351 L838,354 Q790,360 749,367 Z" fill="#eee3c4" stroke="#2b5f86" stroke-width="0.9"/>
<path d="M753,377 Q784,378 812,378.5 L812,381.5 Q784,382 755,386 Z" fill="#eee3c4" stroke="#2b5f86" stroke-width="0.9"/>
<path d="M835,352 Q836,342 850,336 Q851,346 846,354 Q840,356 835,352 Z" fill="#93d8df" stroke="#2b5f86" stroke-width="1.2"/>
<path d="M838,351 Q846,358 856,364 Q866,370 872,378 Q876,388 870,392 Q862,390 855,386 Q848,390 842,396 Q836,392 832,386 Q822,384 812,382 Q808,378 814,374 Q826,366 838,351 Z" fill="#92d7de" stroke="#2b5f86" stroke-width="1.3" stroke-linejoin="round"/>
<path d="M836,362 Q842,360 846,366 Q842,374 834,372 Z" fill="#c2edf1" opacity="0.9"/>
<path d="M752,404 Q790,398 830,393 L832,396 Q800,404 782,418 Q770,428 764,438 L758,425 Z" fill="#d9ead8"/>
<path d="M756.0,403 L757.0,436" stroke="#5cb5a8" stroke-width="1"/>
<path d="M762.2,403 L763.2,436" stroke="#5cb5a8" stroke-width="1"/>
<path d="M768.4,403 L769.4,436" stroke="#5cb5a8" stroke-width="1"/>
<path d="M774.6,403 L775.6,436" stroke="#5cb5a8" stroke-width="1"/>
<path d="M780.8,403 L781.8,436" stroke="#5cb5a8" stroke-width="1"/>
<path d="M787.0,403 L788.0,436" stroke="#5cb5a8" stroke-width="1"/>
<path d="M793.2,403 L794.2,436" stroke="#5cb5a8" stroke-width="1"/>
<path d="M799.4,403 L800.4,436" stroke="#5cb5a8" stroke-width="1"/>
<path d="M764,430 Q782,414 800,406 Q815,400 826,398" fill="none" stroke="#eee4c2" stroke-width="4.5"/>
<path d="M765,438 C778,418 800,404 826,398 C840,395 852,394 863,396 Q866,420 862,440 L856,462.7 Q838,458 820,460 Q800,463 785,460 Q775,459 767,459 Z" fill="url(#gCriC)" stroke="#2b5f86" stroke-width="1.4" stroke-linejoin="round"/>
<path d="M790,440 Q805,412 835,408 Q848,420 836,444 Q815,456 790,440 Z" fill="#a6e2e8" opacity="0.55"/>
<ellipse cx="765.5" cy="447" rx="5" ry="12.5" fill="#b8e8ee" stroke="#2b5f86" stroke-width="1.2"/>
<path d="M858,402 Q864,392 872,396 Q876,402 875,412 L870,456 Q866,466 860,464 Q854,460 855,448 Z" fill="#b8e8ee" stroke="#2b5f86" stroke-width="1.3"/>
<path d="M763,469.5 Q793.0,470.5 820.0,472.0 Q832,473.5 832,479.0 Q832,486.5 820.0,486.5 Q793.0,487.5 763,487.5 Z" fill="url(#gRingR)" stroke="#2b5f86" stroke-width="1.4"/>
<ellipse cx="766" cy="478.5" rx="4.8" ry="9.0" fill="#c0ebf0" stroke="#2b5f86" stroke-width="1.2"/>
<path d="M764,495 Q794.0,496.0 821.4,497.5 Q833.4,499.0 833.4,504.5 Q833.4,512.0 821.4,512.0 Q794.0,513.0 764,513 Z" fill="url(#gRingR)" stroke="#2b5f86" stroke-width="1.4"/>
<ellipse cx="767" cy="504.0" rx="4.8" ry="9.0" fill="#c0ebf0" stroke="#2b5f86" stroke-width="1.2"/>
<path d="M765,520.5 Q795.0,521.5 822.0,523.0 Q834,524.5 834,530.5 Q834,538.4 822.0,538.4 Q795.0,539.4 765,539.4 Z" fill="url(#gRingR)" stroke="#2b5f86" stroke-width="1.4"/>
<ellipse cx="768" cy="530.0" rx="4.8" ry="9.4" fill="#c0ebf0" stroke="#2b5f86" stroke-width="1.2"/>
<path d="M767,546.5 Q797.0,547.5 823.0,549.0 Q835,550.5 835,556.5 Q835,564.4 823.0,564.4 Q797.0,565.4 767,565.4 Z" fill="url(#gRingR)" stroke="#2b5f86" stroke-width="1.4"/>
<ellipse cx="770" cy="556.0" rx="4.8" ry="9.4" fill="#c0ebf0" stroke="#2b5f86" stroke-width="1.2"/>
</g>
<g stroke="#fff" stroke-width="3.6" stroke-linecap="round"><line x1="278" y1="168" x2="151.2" y2="201.8"/><line x1="348" y1="168" x2="474" y2="201.4"/><line x1="274" y1="198" x2="207.1" y2="213.2"/><line x1="248" y1="243" x2="151.8" y2="271.2"/><line x1="241.4" y1="317.2" x2="150.4" y2="356.1"/><line x1="258.3" y1="349.4" x2="215.2" y2="364"/><line x1="366.2" y1="349.4" x2="420" y2="366.5"/><line x1="241.4" y1="381.9" x2="151.8" y2="406.6"/><line x1="241.4" y1="381.9" x2="207.9" y2="426.9"/><line x1="258.8" y1="457" x2="150.8" y2="456.5"/><line x1="366" y1="457" x2="474.8" y2="456.2"/><line x1="239" y1="484.7" x2="150.8" y2="484.7"/><line x1="254.5" y1="540.9" x2="147.2" y2="540.9"/><line x1="370.4" y1="540.9" x2="440.6" y2="541"/><line x1="682.4" y1="168" x2="759" y2="204.7"/><line x1="609.2" y1="208.8" x2="489.7" y2="264"/><line x1="677.6" y1="208.8" x2="795.4" y2="263.9"/><line x1="709.2" y1="256" x2="751.2" y2="273.6"/><line x1="698.7" y1="296.4" x2="753.4" y2="318.4"/><line x1="590.9" y1="333" x2="485.6" y2="328.6"/><line x1="693.1" y1="333" x2="773.5" y2="358.4"/><line x1="607.8" y1="353.3" x2="482.5" y2="346.8"/><line x1="676.7" y1="352.8" x2="760" y2="380"/><line x1="581.3" y1="381" x2="509" y2="376"/><line x1="711.9" y1="423.3" x2="777.2" y2="414.4"/><line x1="696" y1="460" x2="777" y2="451.1"/><line x1="714.8" y1="498.4" x2="791.6" y2="489.3"/><line x1="703.5" y1="540.4" x2="777.2" y2="532.5"/><line x1="886" y1="201.2" x2="881.4" y2="250.4"/><line x1="889.4" y1="338.9" x2="843.6" y2="345.7"/><line x1="889.4" y1="417.4" x2="858.8" y2="383.3"/></g><g stroke="#12466a" stroke-width="1.7" stroke-linecap="round"><line x1="278" y1="168" x2="151.2" y2="201.8"/><line x1="348" y1="168" x2="474" y2="201.4"/><line x1="274" y1="198" x2="207.1" y2="213.2"/><line x1="248" y1="243" x2="151.8" y2="271.2"/><line x1="241.4" y1="317.2" x2="150.4" y2="356.1"/><line x1="258.3" y1="349.4" x2="215.2" y2="364"/><line x1="366.2" y1="349.4" x2="420" y2="366.5"/><line x1="241.4" y1="381.9" x2="151.8" y2="406.6"/><line x1="241.4" y1="381.9" x2="207.9" y2="426.9"/><line x1="258.8" y1="457" x2="150.8" y2="456.5"/><line x1="366" y1="457" x2="474.8" y2="456.2"/><line x1="239" y1="484.7" x2="150.8" y2="484.7"/><line x1="254.5" y1="540.9" x2="147.2" y2="540.9"/><line x1="370.4" y1="540.9" x2="440.6" y2="541"/><line x1="682.4" y1="168" x2="759" y2="204.7"/><line x1="609.2" y1="208.8" x2="489.7" y2="264"/><line x1="677.6" y1="208.8" x2="795.4" y2="263.9"/><line x1="709.2" y1="256" x2="751.2" y2="273.6"/><line x1="698.7" y1="296.4" x2="753.4" y2="318.4"/><line x1="590.9" y1="333" x2="485.6" y2="328.6"/><line x1="693.1" y1="333" x2="773.5" y2="358.4"/><line x1="607.8" y1="353.3" x2="482.5" y2="346.8"/><line x1="676.7" y1="352.8" x2="760" y2="380"/><line x1="581.3" y1="381" x2="509" y2="376"/><line x1="711.9" y1="423.3" x2="777.2" y2="414.4"/><line x1="696" y1="460" x2="777" y2="451.1"/><line x1="714.8" y1="498.4" x2="791.6" y2="489.3"/><line x1="703.5" y1="540.4" x2="777.2" y2="532.5"/><line x1="886" y1="201.2" x2="881.4" y2="250.4"/><line x1="889.4" y1="338.9" x2="843.6" y2="345.7"/><line x1="889.4" y1="417.4" x2="858.8" y2="383.3"/></g><g fill="#12466a"><circle cx="278" cy="168" r="2.9"/><circle cx="348" cy="168" r="2.9"/><circle cx="274" cy="198" r="2.9"/><circle cx="248" cy="243" r="2.9"/><circle cx="241.4" cy="317.2" r="2.9"/><circle cx="258.3" cy="349.4" r="2.9"/><circle cx="366.2" cy="349.4" r="2.9"/><circle cx="241.4" cy="381.9" r="2.9"/><circle cx="258.8" cy="457" r="2.9"/><circle cx="366" cy="457" r="2.9"/><circle cx="239" cy="484.7" r="2.9"/><circle cx="254.5" cy="540.9" r="2.9"/><circle cx="370.4" cy="540.9" r="2.9"/><circle cx="682.4" cy="168" r="2.9"/><circle cx="609.2" cy="208.8" r="2.9"/><circle cx="677.6" cy="208.8" r="2.9"/><circle cx="709.2" cy="256" r="2.9"/><circle cx="698.7" cy="296.4" r="2.9"/><circle cx="590.9" cy="333" r="2.9"/><circle cx="693.1" cy="333" r="2.9"/><circle cx="607.8" cy="353.3" r="2.9"/><circle cx="676.7" cy="352.8" r="2.9"/><circle cx="581.3" cy="381" r="2.9"/><circle cx="711.9" cy="423.3" r="2.9"/><circle cx="696" cy="460" r="2.9"/><circle cx="714.8" cy="498.4" r="2.9"/><circle cx="703.5" cy="540.4" r="2.9"/><circle cx="886" cy="201.2" r="2.9"/><circle cx="889.4" cy="338.9" r="2.9"/><circle cx="889.4" cy="417.4" r="2.9"/></g>
<g class="lb">
<text x="284" y="171.7" textLength="56.0" lengthAdjust="spacingAndGlyphs">Epiglottis</text>
<text x="279.6" y="201.7" textLength="64.8" lengthAdjust="spacingAndGlyphs">Hyoid Bone</text>
<text x="252.6" y="246.7" textLength="122.4" lengthAdjust="spacingAndGlyphs">Thyrohyoid Ligament</text>
<text x="247.4" y="320.7" textLength="129.2" lengthAdjust="spacingAndGlyphs">Laryngeal Prominence</text>
<text x="262.2" y="353.0" textLength="100.1" lengthAdjust="spacingAndGlyphs">Thyroid Cartilage</text>
<text x="247.4" y="385.2" textLength="129.2" lengthAdjust="spacingAndGlyphs">Cricothyroid Ligament</text>
<text x="264.2" y="460.7" textLength="95.4" lengthAdjust="spacingAndGlyphs">Cricoid Cartilage</text>
<text x="244.4" y="488.2" textLength="135.0" lengthAdjust="spacingAndGlyphs">Cricotracheal Ligament</text>
<text x="259.9" y="544.5" textLength="105.1" lengthAdjust="spacingAndGlyphs">Tracheal Cartilage</text>
<text x="610.4" y="171.7" textLength="64.3" lengthAdjust="spacingAndGlyphs">Hyoid Bone</text>
<text x="615.2" y="212.5" textLength="55.6" lengthAdjust="spacingAndGlyphs">Epiglottis</text>
<text x="573.2" y="259.7" textLength="129.6" lengthAdjust="spacingAndGlyphs">Thyrohyoid Membrane</text>
<text x="593.1" y="300.0" textLength="99.3" lengthAdjust="spacingAndGlyphs">Thyroid Cartilage</text>
<text x="596.9" y="336.7" textLength="92.3" lengthAdjust="spacingAndGlyphs">Ventricular Fold</text>
<text x="614.3" y="357.0" textLength="57.2" lengthAdjust="spacingAndGlyphs">Vocal Fold</text>
<text x="587" y="384.7" textLength="111.8" lengthAdjust="spacingAndGlyphs">Arytenoid Cartilage</text>
<text x="578" y="427.0" textLength="129.6" lengthAdjust="spacingAndGlyphs">Cricothyroid Ligament</text>
<text x="594.8" y="463.7" textLength="96.0" lengthAdjust="spacingAndGlyphs">Cricoid Cartilage</text>
<text x="575.6" y="502.1" textLength="134.4" lengthAdjust="spacingAndGlyphs">Cricotracheal Ligament</text>
<text x="587.6" y="544.1" textLength="111.1" lengthAdjust="spacingAndGlyphs">Tracheal Cartilages</text>
<text x="891.4" y="203.7" textLength="79.4" lengthAdjust="spacingAndGlyphs">Superior Horn</text>
<text x="891.4" y="217.9" textLength="56.6" lengthAdjust="spacingAndGlyphs">of Thyroid</text>
<text x="891.4" y="232.1" textLength="53.6" lengthAdjust="spacingAndGlyphs">Cartilage</text>
<text x="894.3" y="341.0" textLength="66.9" lengthAdjust="spacingAndGlyphs">Corniculate</text>
<text x="894.3" y="355.6" textLength="53.7" lengthAdjust="spacingAndGlyphs">Cartilage</text>
<text x="894.3" y="421.5" textLength="57.5" lengthAdjust="spacingAndGlyphs">Arytenoid</text>
<text x="894.3" y="436.2" textLength="53.7" lengthAdjust="spacingAndGlyphs">Cartilage</text>
</g>
<g font-family="Liberation Serif" font-weight="bold" font-size="19.6" fill="#5a5a5a" stroke="#5a5a5a" stroke-width="1.0">
<text x="70" y="626.6" textLength="162.4" lengthAdjust="spacing">ANTERIOR VIEW</text>
<text x="394" y="626.6" textLength="172.6" lengthAdjust="spacing">POSTERIOR VIEW</text>
<text x="729" y="626.6" textLength="154" lengthAdjust="spacing">CROSS SECTION</text>
</g>
<g fill="none" stroke="#12466a" stroke-width="1.6">
<polyline points="75.8,293.2 37.5,293.2 37.5,356.2"/>
<polyline points="37.5,408.9 37.5,472 95,472"/>
<polyline points="95,481.2 37.5,481.2 37.5,495.2"/>
<polyline points="37.5,556.9 37.5,569.6 103.7,569.6"/>
</g>
<g font-family="Liberation Serif" font-weight="bold" font-size="11.6" fill="#12466a" stroke="#12466a" stroke-width="0.75">
<text transform="translate(41.0,406.8) rotate(-90)" textLength="48.4" lengthAdjust="spacingAndGlyphs">LARYNX</text>
<text transform="translate(41.0,553.1) rotate(-90)" textLength="56.5" lengthAdjust="spacingAndGlyphs">TRACHEA</text>
</g>
<text transform="translate(29,650) rotate(-90)" textLength="214" lengthAdjust="spacingAndGlyphs" font-family="Liberation Sans" font-size="19.5" fill="#555" stroke="#555" stroke-width="0.9">Adobe Stock | #381264051</text>
</svg>
</body></html>
